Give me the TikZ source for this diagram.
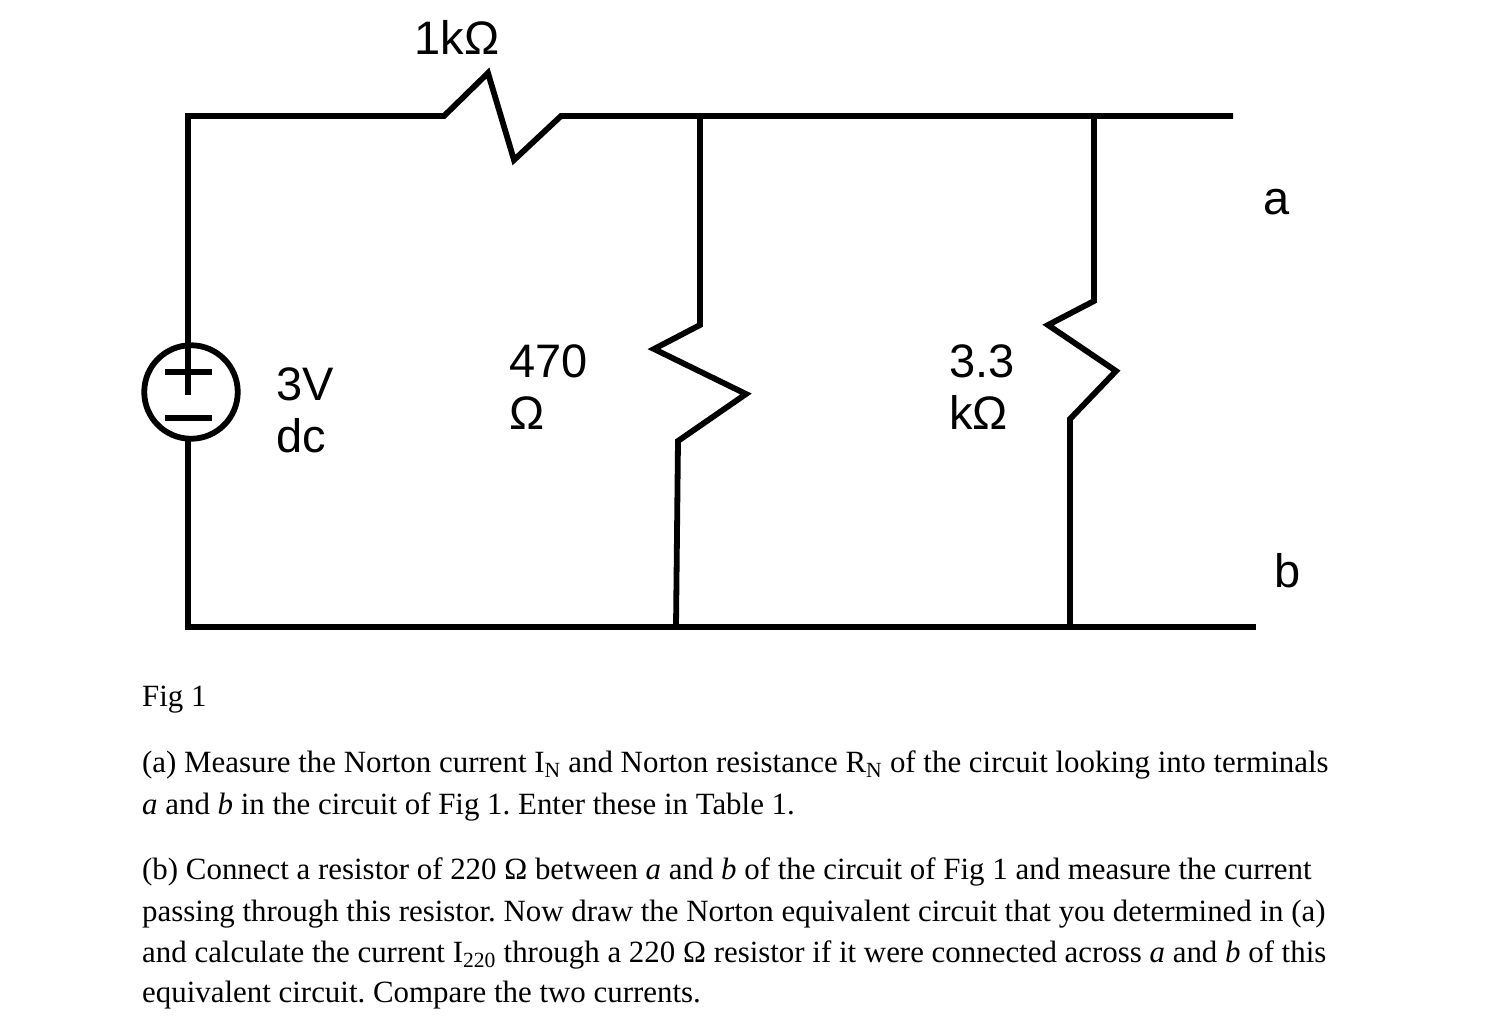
\documentclass[tikz,border=0pt]{standalone}
\usepackage{fontspec}
\setmainfont{Liberation Serif}
\setsansfont{Liberation Sans}
\frenchspacing
\tikzset{
  wire/.style={line width=5.8pt,line cap=butt,line join=miter},
  value/.style={font=\sffamily\fontsize{47}{52}\selectfont,inner sep=0pt,align=left},
  body/.style={font=\fontsize{30.9}{41}\selectfont,inner sep=0pt,anchor=base west},
}
\begin{document}
\begin{tikzpicture}[x=1pt,y=-1pt]
  \useasboundingbox (0,0) rectangle (1492,1029);

  \coordinate (TL) at (188,116);
  \coordinate (BL) at (188,627);
  \coordinate (R1a) at (444,116);
  \coordinate (R1b) at (488,73);
  \coordinate (R1c) at (514,160);
  \coordinate (R1d) at (561,116);
  \coordinate (TA) at (700,116);
  \coordinate (TB) at (1094,116);
  \coordinate (TEnd) at (1233,116);
  \coordinate (BA) at (676,627);
  \coordinate (BB) at (1070,627);
  \coordinate (BEnd) at (1256,627);
  \coordinate (RAa) at (700,325);
  \coordinate (RAb) at (654,349);
  \coordinate (RAc) at (746,394);
  \coordinate (RAd) at (678,441);
  \coordinate (RBa) at (1094,301);
  \coordinate (RBb) at (1048,325);
  \coordinate (RBc) at (1116,371);
  \coordinate (RBd) at (1070,419);

  \node[circle,draw,line width=5.8pt,minimum size=93.5pt,inner sep=0pt] (Vs) at (191,392) {};
  \coordinate (VsP) at (188,344);
  \coordinate (VsM) at (188,441);

  % wires
  \draw[wire] (VsP) -- (TL) -- (R1a) -- (R1b) -- (R1c) -- (R1d) -- (TEnd);
  \draw[wire] (VsM) -- (BL) -- (BEnd);
  \draw[wire] (TA) -- (RAa) -- (RAb) -- (RAc) -- (RAd) -- (BA);
  \draw[wire] (TB) -- (RBa) -- (RBb) -- (RBc) -- (RBd) -- (BB);
  % polarity
  \draw[wire] (188,348) -- (188,395);
  \draw[wire] (165,372) -- (212,372);
  \draw[wire] (165,418) -- (212,418);

  \node[value] (Lr1) at (457,37) {1kΩ};
  \node[value,anchor=west] (Lv) at (276,410) {3V\\dc};
  \node[value,anchor=west] (Lra) at (509,387) {470\\Ω};
  \node[value,anchor=west] (Lrb) at (949,387) {3.3\\kΩ};
  \node[value] (La) at (1277,202) {a};
  \node[value] (Lb) at (1288,571) {b};

  \node[body] (Fig) at (142,706) {Fig 1};
  \node[body] (Pa) at (142,772) {(a) Measure the Norton current I\textsubscript{N} and Norton resistance R\textsubscript{N} of the circuit looking into terminals};
  \node[body] (Pa2) at (142,814) {\textit{a} and \textit{b} in the circuit of Fig 1. Enter these in Table 1.};
  \node[body] (Pb) at (142,879) {(b) Connect a resistor of 220 Ω between \textit{a} and \textit{b} of the circuit of Fig 1 and measure the current};
  \node[body] (Pb2) at (142,921) {passing through this resistor. Now draw the Norton equivalent circuit that you determined in (a)};
  \node[body] (Pb3) at (142,962) {and calculate the current I\textsubscript{220} through a 220 Ω resistor if it were connected across \textit{a} and \textit{b} of this};
  \node[body] (Pb4) at (142,1002) {equivalent circuit. Compare the two currents.};
\end{tikzpicture}
\end{document}
